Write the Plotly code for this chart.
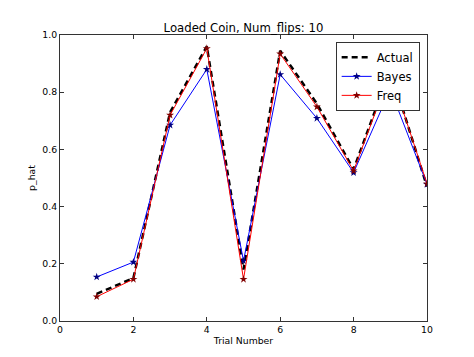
import plotly.graph_objects as go

trials = [1, 2, 3, 4, 5, 6, 7, 8, 9, 10]
actual = [0.095, 0.150, 0.730, 0.960, 0.180, 0.945, 0.760, 0.530, 0.880, 0.470]
bayes = [0.154, 0.206, 0.685, 0.880, 0.210, 0.862, 0.709, 0.519, 0.810, 0.478]
freq = [0.085, 0.146, 0.720, 0.953, 0.146, 0.934, 0.749, 0.525, 0.870, 0.480]
x_ticks = [0, 2, 4, 6, 8, 10]
y_ticks = [0.0, 0.2, 0.4, 0.6, 0.8, 1.0]

font = "DejaVu Sans"

fig = go.Figure()
fig.add_trace(go.Scatter(x=trials, y=actual, mode="lines", name="Actual",
                         line=dict(color="black", width=2.5, dash="6px,4px")))
fig.add_trace(go.Scatter(x=trials, y=bayes, mode="lines+markers", name="Bayes",
                         line=dict(color="#0000ff", width=1),
                         marker=dict(symbol="star", size=6, color="#000080")))
fig.add_trace(go.Scatter(x=trials, y=freq, mode="lines+markers", name="Freq",
                         line=dict(color="#ff0000", width=1),
                         marker=dict(symbol="star", size=6, color="#800000")))

axis_common = dict(showline=True, linecolor="#333333", linewidth=1, mirror="ticks",
                   ticks="inside", ticklen=4, tickcolor="#333333", showgrid=False,
                   zeroline=False, automargin=False,
                   tickfont=dict(family=font, size=9.3, color="black"))

fig.update_layout(
    width=474, height=357,
    margin=dict(l=60, r=47, t=35, b=36),
    paper_bgcolor="white", plot_bgcolor="white",
    title=dict(text="Loaded Coin, Num_flips: 10", x=0.5, xanchor="center",
               xref="paper", y=0.922, yanchor="middle", yref="container",
               font=dict(family=font, size=11.7, color="black")),
    font=dict(family=font, color="black"),
    showlegend=True,
    legend=dict(x=0.98, y=0.976, xanchor="right", yanchor="top",
                bordercolor="#333333", borderwidth=1, bgcolor="white",
                font=dict(family=font, size=11.5, color="black"),
                itemwidth=30, tracegroupgap=0),
)
fig.update_xaxes(range=[0, 10], tickvals=x_ticks, ticktext=[str(v) for v in x_ticks],
                 title=dict(text="Trial Number", font=dict(family=font, size=9.3), standoff=3),
                 **axis_common)
fig.update_yaxes(range=[0, 1], tickvals=y_ticks, ticktext=[f"{v:.1f}" for v in y_ticks],
                 title=dict(text="p_hat", font=dict(family=font, size=9.3), standoff=5),
                 **axis_common)

fig.write_html("out.html", config={"displayModeBar": False},
               post_script="document.body.style.margin='0';document.body.style.padding='0';")
